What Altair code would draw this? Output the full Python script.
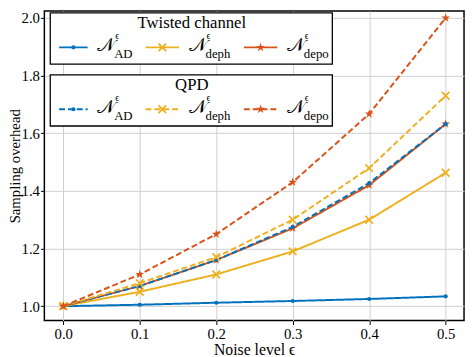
import altair as alt
import pandas as pd

eps = [0.0, 0.1, 0.2, 0.3, 0.4, 0.5]
tw_ad = [1.0, 1.005, 1.012, 1.018, 1.025, 1.034]
tw_deph = [1.0, 1.05, 1.11, 1.19, 1.30, 1.463]
tw_depo = [1.0, 1.07, 1.16, 1.27, 1.42, 1.632]
qpd_ad = [1.0, 1.07, 1.16, 1.275, 1.427, 1.632]
qpd_deph = [1.0, 1.08, 1.17, 1.30, 1.479, 1.73]
qpd_depo = [1.0, 1.11, 1.25, 1.43, 1.667, 2.0]

x_ticks = [0.0, 0.1, 0.2, 0.3, 0.4, 0.5]
y_ticks = [1.0, 1.2, 1.4, 1.6, 1.8, 2.0]

BLUE = "#0072BD"
YELLOW = "#EDB120"
ORANGE = "#D95319"
FONT = "Liberation Serif"

STAR = ("M0,-1L0.223,-0.307L0.951,-0.309L0.361,0.117L0.588,0.809L0,0.38"
        "L-0.588,0.809L-0.361,0.117L-0.951,-0.309L-0.223,-0.307Z")
XMARK = "M-1,-1L1,1M-1,1L1,-1"

series = [
    ("tw_ad", tw_ad, BLUE, "circle", [1, 0], 18, True),
    ("tw_deph", tw_deph, YELLOW, XMARK, [1, 0], 60, False),
    ("tw_depo", tw_depo, ORANGE, STAR, [1, 0], 90, True),
    ("qpd_ad", qpd_ad, BLUE, "circle", [6, 3], 18, True),
    ("qpd_deph", qpd_deph, YELLOW, XMARK, [6, 3], 60, False),
    ("qpd_depo", qpd_depo, ORANGE, STAR, [6, 3], 90, True),
]

xs = alt.Scale(domain=[-0.0247, 0.524], nice=False, zero=False)
ys = alt.Scale(domain=[0.95, 2.024], nice=False, zero=False)

common = dict(grid=True, gridColor="#cfcfcf", gridWidth=1, ticks=True, tickSize=4,
              tickColor="black", tickWidth=1, domain=False,
              labelFont=FONT, labelFontSize=15, labelColor="black",
              titleFont=FONT, titleFontWeight="normal", titleColor="black")
xaxis = alt.Axis(values=x_ticks, format=".1f", title="Noise level ϵ", labelPadding=2,
                 titlePadding=1, titleFontSize=16, **common)
yaxis = alt.Axis(values=y_ticks, format=".1f", title="Sampling overhead", labelPadding=1,
                 titlePadding=-1, titleFontSize=15, **common)


def X(field):
    return alt.X(field, scale=xs, axis=xaxis)


def Y(field):
    return alt.Y(field, scale=ys, axis=yaxis)


layers = []
for name, vals, col, shape, dash, size, filled in series:
    df = pd.DataFrame({"eps": eps, "val": vals})
    line = alt.Chart(df).mark_line(color=col, strokeWidth=2, strokeDash=dash).encode(
        x=X("eps:Q"), y=Y("val:Q"))
    pkw = dict(shape=shape, size=size, color=col, opacity=1)
    if filled:
        pt = alt.Chart(df).mark_point(filled=True, **pkw)
    else:
        pt = alt.Chart(df).mark_point(filled=False, strokeWidth=1.8, **pkw)
    pt = pt.encode(x=X("eps:Q"), y=Y("val:Q"))
    layers += [line, pt]

# legends (drawn decoration, pixel positions)
one = pd.DataFrame({"a": [0]})
legend_groups = [
    ("Twisted channel", 2, [1, 0]),
    ("QPD", 65, [6, 3]),
]
entries = [
    (15, 44, 54, BLUE, "circle", 18, True, "AD"),
    (103, 137, 147, YELLOW, XMARK, 60, False, "deph"),
    (203, 237, 247, ORANGE, STAR, 90, True, "depo"),
]
for title, top, dash in legend_groups:
    layers.append(alt.Chart(one).mark_rect(fill="white", stroke="black", strokeWidth=1.3).encode(
        x=alt.value(6), x2=alt.value(293), y=alt.value(top), y2=alt.value(top + 52)))
    layers.append(alt.Chart(one).mark_text(text=title, font=FONT, fontSize=17, color="black",
                                           align="center", baseline="middle").encode(
        x=alt.value(150), y=alt.value(top + 10)))
    ry = top + 35
    for x1, x2, tx, col, shape, size, filled, sub in entries:
        layers.append(alt.Chart(one).mark_rule(color=col, strokeWidth=2, strokeDash=dash).encode(
            x=alt.value(x1), x2=alt.value(x2), y=alt.value(ry)))
        if filled:
            pm = alt.Chart(one).mark_point(filled=True, shape=shape, size=size, color=col, opacity=1)
        else:
            pm = alt.Chart(one).mark_point(filled=False, shape=shape, size=size, color=col,
                                           strokeWidth=1.8, opacity=1)
        layers.append(pm.encode(x=alt.value((x1 + x2) / 2), y=alt.value(ry)))
        layers.append(alt.Chart(one).mark_text(text="𝒩", font=FONT, fontSize=19, color="black",
                                               align="left", baseline="middle").encode(
            x=alt.value(tx), y=alt.value(ry - 2)))
        layers.append(alt.Chart(one).mark_text(text="ϵ", font=FONT, fontSize=10, color="black",
                                               align="left", baseline="middle").encode(
            x=alt.value(tx + 18), y=alt.value(ry - 11)))
        layers.append(alt.Chart(one).mark_text(text=sub, font=FONT, fontSize=13, color="black",
                                               align="left", baseline="middle").encode(
            x=alt.value(tx + 17), y=alt.value(ry + 7)))

chart = alt.layer(*layers).properties(
    width=427, height=315,
    autosize=alt.AutoSizeParams(type="none"),
    padding={"left": 37, "top": 0, "right": 2, "bottom": 34},
).configure(background="white", view=alt.ViewConfig(stroke="black", strokeWidth=1.5))

chart.save("out.html", embed_options={"renderer": "svg", "actions": False})
